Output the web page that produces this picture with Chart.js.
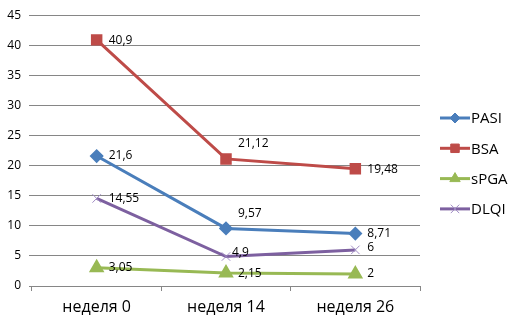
<!DOCTYPE html>
<html lang="ru">
<head>
    <meta charset="UTF-8">
    <title>PASI / BSA / sPGA / DLQI</title>
    <style>
        body { margin: 0; padding: 0; background: #fff; }
        .wrap { position: relative; width: 522px; height: 326px; }
    </style>
</head>
<body>
    <div class="wrap"><canvas id="chart"></canvas></div>
    <script src="https://cdn.jsdelivr.net/npm/chart.js"></script>
    <script>
        const weeks = ['неделя 0', 'неделя 14', 'неделя 26'];
        const pasi = [21.6, 9.57, 8.71];
        const bsa = [40.9, 21.12, 19.48];
        const spga = [3.05, 2.15, 2];
        const dlqi = [14.55, 4.9, 6];
        const yTicks = [0, 5, 10, 15, 20, 25, 30, 35, 40, 45];

        const FONT = '"Open Sans", "DejaVu Sans", sans-serif';

        // label nudges (px) so the numbers don't sit on the lines
        const labelShift = {
            PASI: [[0, 0], [0, -15], [0, 0]],
            BSA: [[0, 1], [0, -15], [0, 1]],
            sPGA: [[0, 0], [0, 1], [0, 0]],
            DLQI: [[0, 0], [-6, -4], [0, -2]]
        };

        const dataLabels = {
            id: 'dataLabels',
            afterDatasetsDraw(chart) {
                const ctx = chart.ctx;
                ctx.save();
                ctx.font = '12px ' + FONT;
                ctx.fillStyle = '#000';
                ctx.textBaseline = 'middle';
                chart.data.datasets.forEach((ds, i) => {
                    chart.getDatasetMeta(i).data.forEach((pt, j) => {
                        const txt = String(ds.data[j]).replace('.', ',');
                        const s = labelShift[ds.label][j];
                        ctx.fillText(txt, pt.x + 12 + s[0], pt.y + s[1]);
                    });
                });
                ctx.restore();
            }
        };

        // legend on the right, line sample with the marker in the middle
        const sideLegend = {
            id: 'sideLegend',
            afterDraw(chart) {
                const ctx = chart.ctx;
                const x0 = chart.chartArea.right + 20;
                ctx.save();
                ctx.font = '15px ' + FONT;
                ctx.textBaseline = 'middle';
                chart.data.datasets.forEach((ds, i) => {
                    const y = 118 + i * 30.3;
                    ctx.strokeStyle = ds.borderColor;
                    ctx.lineWidth = 3;
                    ctx.beginPath();
                    ctx.moveTo(x0, y);
                    ctx.lineTo(x0 + 30, y);
                    ctx.stroke();
                    ctx.fillStyle = ds.pointBackgroundColor;
                    ctx.strokeStyle = ds.pointBorderColor;
                    ctx.lineWidth = ds.pointBorderWidth || 1;
                    Chart.helpers.drawPoint(ctx, {
                        pointStyle: ds.pointStyle,
                        radius: ds.pointRadius,
                        rotation: 0,
                        borderWidth: ds.pointBorderWidth || 1
                    }, x0 + 15, y);
                    ctx.fillStyle = '#000';
                    ctx.fillText(ds.label, x0 + 31, y + 1);
                });
                ctx.restore();
            }
        };

        function series(label, data, color, style, radius, extra) {
            return Object.assign({
                label: label,
                data: data,
                borderColor: color,
                backgroundColor: color,
                pointBackgroundColor: color,
                pointBorderColor: color,
                borderWidth: 3,
                pointStyle: style,
                pointRadius: radius,
                pointHoverRadius: radius,
                tension: 0
            }, extra || {});
        }

        new Chart(document.getElementById('chart'), {
            type: 'line',
            data: {
                labels: weeks,
                datasets: [
                    series('PASI', pasi, '#4A7EBB', 'rectRot', 5),
                    series('BSA', bsa, '#BE4B48', 'rect', 6),
                    series('sPGA', spga, '#98B954', 'triangle', 6),
                    series('DLQI', dlqi, '#7D60A0', 'crossRot', 6, { pointBorderColor: '#A08CC4', pointBorderWidth: 1 })
                ]
            },
            options: {
                responsive: true,
                maintainAspectRatio: false,
                animation: false,
                layout: { padding: { top: 6, right: 0, left: 0, bottom: 0 } },
                plugins: { legend: { display: false }, tooltip: { enabled: false } },
                scales: {
                    x: {
                        offset: true,
                        grid: { offset: true, drawOnChartArea: false, tickLength: 5, color: '#868686' },
                        border: { display: true, color: '#868686', width: 1 },
                        ticks: { color: '#000', font: { size: 16, family: FONT }, padding: 7 },
                        afterFit(scale) { scale.height = 40; }
                    },
                    y: {
                        min: 0,
                        max: 45,
                        afterBuildTicks(scale) { scale.ticks = yTicks.map(v => ({ value: v })); },
                        grid: { color: '#868686', tickLength: 3 },
                        border: { display: false },
                        ticks: { color: '#000', font: { size: 12, family: FONT }, padding: 8 },
                        afterFit(scale) { scale.width = 32; }
                    },
                    // empty box on the right that keeps room for the legend
                    gap: {
                        position: 'right',
                        display: true,
                        grid: { display: false, drawOnChartArea: false },
                        border: { display: false },
                        ticks: { display: false },
                        afterFit(scale) { scale.width = 102; }
                    }
                }
            },
            plugins: [dataLabels, sideLegend]
        });
    </script>
</body>
</html>
